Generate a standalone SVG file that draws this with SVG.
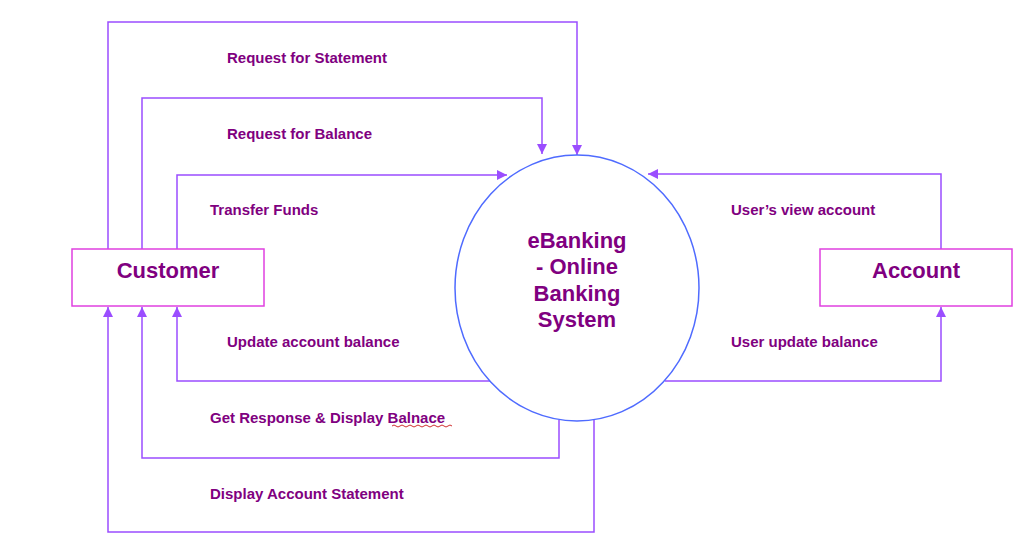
<svg xmlns="http://www.w3.org/2000/svg" width="1024" height="539" viewBox="0 0 1024 539">
<defs>
<marker id="ah" viewBox="0 0 10 10" refX="10" refY="5" markerWidth="10" markerHeight="10" markerUnits="userSpaceOnUse" orient="auto"><path d="M0,0 L10,5 L0,10 z" fill="#9B4DFF"/></marker>
<style>
.c{fill:none;stroke:#9B4DFF;stroke-width:1.5;marker-end:url(#ah)}
.l{font-family:"Liberation Sans",Arial,sans-serif;font-weight:bold;font-size:15px;fill:#800080}
.n{font-family:"Liberation Sans",Arial,sans-serif;font-weight:bold;font-size:22px;fill:#800080;text-anchor:middle}
</style>
</defs>
<rect width="1024" height="539" fill="#fff"/>
<g id="connectors">
<path class="c" d="M108,249 V22 H577 V155"/>
<path class="c" d="M142,249 V98 H542 V154"/>
<path class="c" d="M177,249 V175 H507"/>
<path class="c" d="M941,249 V174 H648"/>
<path class="c" d="M490,381 H177 V307"/>
<path class="c" d="M559,420 V458 H142 V307"/>
<path class="c" d="M594,420 V532 H108 V307"/>
<path class="c" d="M665,381 H941 V307"/>
</g>
<g id="labels">
<text class="l" x="227" y="63">Request for Statement</text>
<text class="l" x="227" y="139">Request for Balance</text>
<text class="l" x="210" y="215">Transfer Funds</text>
<text class="l" x="731" y="215">User’s view account</text>
<text class="l" x="227" y="347">Update account balance</text>
<text class="l" x="731" y="347">User update balance</text>
<text class="l" x="210" y="423">Get Response &amp; Display Balnace</text>
<text class="l" x="210" y="499">Display Account Statement</text>
<path d="M392,426 q2,-2 4,0 t4,0 t4,0 t4,0 t4,0 t4,0 t4,0 t4,0 t4,0 t4,0 t4,0 t4,0 t4,0 t4,0 t4,0" fill="none" stroke="#d03030" stroke-width="1"/>
</g>
<g id="customer">
<rect x="72" y="249" width="192" height="57" fill="#fff" stroke="#E040E0" stroke-width="1.5"/>
<text class="n" x="168" y="278">Customer</text>
</g>
<g id="account">
<rect x="820" y="249" width="192" height="57" fill="#fff" stroke="#E040E0" stroke-width="1.5"/>
<text class="n" x="916" y="278">Account</text>
</g>
<g id="system">
<ellipse cx="577" cy="288" rx="122" ry="133" fill="#fff" stroke="#4F6BFF" stroke-width="1.5"/>
<text class="n" x="577" y="248">eBanking</text>
<text class="n" x="577" y="274">- Online</text>
<text class="n" x="577" y="301">Banking</text>
<text class="n" x="577" y="327">System</text>
</g>
</svg>
